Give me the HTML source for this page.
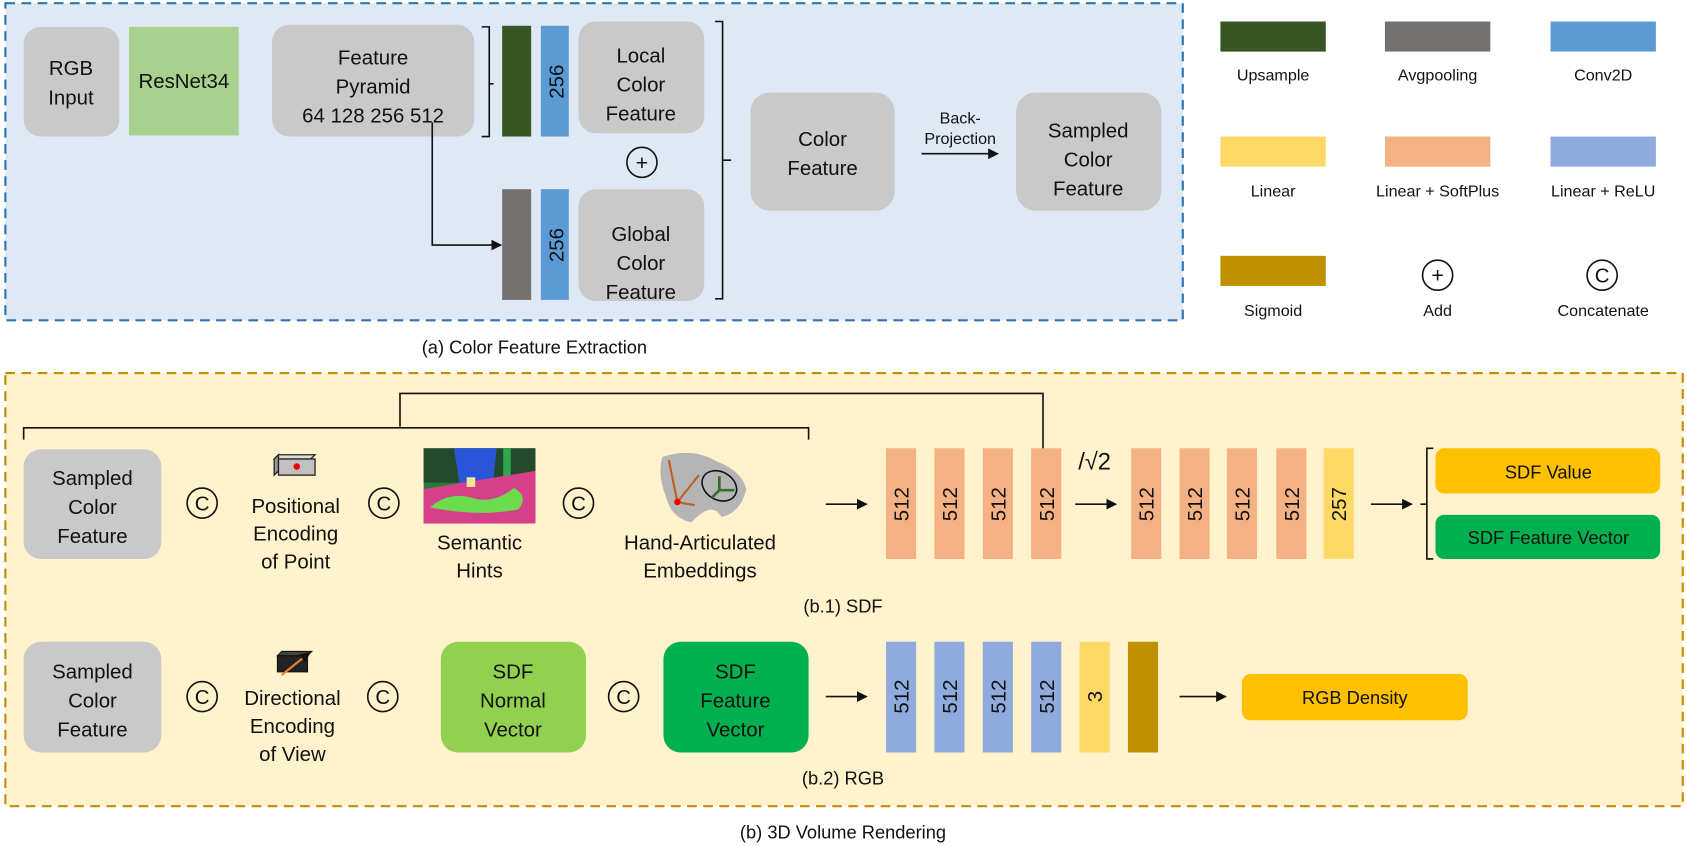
<!DOCTYPE html>
<html><head><meta charset="utf-8"><style>
html,body{margin:0;padding:0;background:#fff;}
svg{display:block;}
text{font-family:"Liberation Sans",sans-serif;fill:#111;}
</style></head><body>
<svg width="1686" height="846" viewBox="0 0 1568 787" preserveAspectRatio="none" xmlns="http://www.w3.org/2000/svg">
<defs>
<marker id="ah" markerWidth="10" markerHeight="10" refX="9" refY="5" orient="auto" markerUnits="userSpaceOnUse"><path d="M0,0 L10,5 L0,10 z" fill="#111"/></marker>
</defs>
<rect width="1568" height="787" fill="#fff"/>
<!-- Top box -->
<rect x="5" y="3" width="1095" height="295" fill="#dee9f5" stroke="#2e75b6" stroke-width="2" stroke-dasharray="9,6"/>
<g font-size="19" text-anchor="middle">
<rect x="22" y="25" width="89" height="102" rx="16" fill="#c9c9c9"/>
<text x="66" y="70">RGB</text><text x="66" y="97">Input</text>
<rect x="120" y="25" width="102" height="101" fill="#a9d18e"/>
<text x="171" y="82">ResNet34</text>
<rect x="253" y="23" width="188" height="104" rx="16" fill="#c9c9c9"/>
<text x="347" y="60">Feature</text><text x="347" y="87">Pyramid</text><text x="347" y="114">64 128 256 512</text>
</g>
<path d="M448,25 H455 V127 H448 M455,78 H459" fill="none" stroke="#111" stroke-width="1.5"/>
<rect x="467" y="24" width="27" height="103" fill="#375623"/>
<rect x="503" y="24" width="26" height="103" fill="#5b9bd5"/>
<text transform="translate(524,76) rotate(-90)" font-size="19" text-anchor="middle">256</text>
<rect x="538" y="20" width="117" height="104" rx="16" fill="#c9c9c9"/>
<g font-size="19" text-anchor="middle"><text x="596" y="58">Local</text><text x="596" y="85">Color</text><text x="596" y="112">Feature</text></g>
<circle cx="597" cy="151" r="14" fill="none" stroke="#111" stroke-width="1.5"/>
<text x="597" y="158" font-size="20" text-anchor="middle">+</text>
<rect x="467" y="176" width="27" height="103" fill="#767171"/>
<rect x="503" y="176" width="26" height="103" fill="#5b9bd5"/>
<text transform="translate(524,228) rotate(-90)" font-size="19" text-anchor="middle">256</text>
<rect x="538" y="176" width="117" height="104" rx="16" fill="#c9c9c9"/>
<g font-size="19" text-anchor="middle"><text x="596" y="224">Global</text><text x="596" y="251">Color</text><text x="596" y="278">Feature</text></g>
<path d="M402,114 V228 H466" fill="none" stroke="#111" stroke-width="1.5" marker-end="url(#ah)"/>
<path d="M665,20 H672 V278 H665 M672,149 H680" fill="none" stroke="#111" stroke-width="1.5"/>
<rect x="698" y="86" width="134" height="110" rx="18" fill="#c9c9c9"/>
<g font-size="19" text-anchor="middle"><text x="765" y="136">Color</text><text x="765" y="163">Feature</text></g>
<g font-size="15" text-anchor="middle"><text x="893" y="115">Back-</text><text x="893" y="134">Projection</text></g>
<line x1="857" y1="143" x2="928" y2="143" stroke="#111" stroke-width="1.5" marker-end="url(#ah)"/>
<rect x="945" y="86" width="135" height="110" rx="18" fill="#c9c9c9"/>
<g font-size="19" text-anchor="middle"><text x="1012" y="128">Sampled</text><text x="1012" y="155">Color</text><text x="1012" y="182">Feature</text></g>
<text x="497" y="329" font-size="17" text-anchor="middle">(a) Color Feature Extraction</text>
<!-- Legend -->
<g font-size="15" text-anchor="middle">
<rect x="1135" y="20" width="98" height="28" fill="#375623"/><text x="1184" y="75">Upsample</text>
<rect x="1288" y="20" width="98" height="28" fill="#767171"/><text x="1337" y="75">Avgpooling</text>
<rect x="1442" y="20" width="98" height="28" fill="#5b9bd5"/><text x="1491" y="75">Conv2D</text>
<rect x="1135" y="127" width="98" height="28" fill="#ffd966"/><text x="1184" y="183">Linear</text>
<rect x="1288" y="127" width="98" height="28" fill="#f4b183"/><text x="1337" y="183">Linear + SoftPlus</text>
<rect x="1442" y="127" width="98" height="28" fill="#8faadc"/><text x="1491" y="183">Linear + ReLU</text>
<rect x="1135" y="238" width="98" height="28" fill="#bf9000"/><text x="1184" y="294">Sigmoid</text>
<text x="1337" y="294">Add</text><text x="1491" y="294">Concatenate</text>
</g>
<circle cx="1337" cy="256" r="14" fill="none" stroke="#111" stroke-width="1.5"/><text x="1337" y="263" font-size="20" text-anchor="middle">+</text>
<circle cx="1490" cy="256" r="14" fill="none" stroke="#111" stroke-width="1.5"/><text x="1490" y="263" font-size="19" text-anchor="middle">C</text>
<!-- Bottom box -->
<rect x="5" y="347" width="1560" height="403" fill="#fff2cc" stroke="#bf9000" stroke-width="2" stroke-dasharray="9,6"/>
<text x="784" y="780" font-size="17" text-anchor="middle">(b) 3D Volume Rendering</text>
<path d="M22,409 V398 H752 V409" fill="none" stroke="#111" stroke-width="1.5"/>
<path d="M372,397 V366 H970 V443" fill="none" stroke="#111" stroke-width="1.5" marker-end="url(#ah)"/>
<!-- row b1 -->
<rect x="22" y="418" width="128" height="102" rx="16" fill="#c9c9c9"/>
<g font-size="19" text-anchor="middle"><text x="86" y="451">Sampled</text><text x="86" y="478">Color</text><text x="86" y="505">Feature</text></g>
<g font-size="19" text-anchor="middle">
<circle cx="188" cy="468" r="14" fill="none" stroke="#111" stroke-width="1.5"/><text x="188" y="475">C</text>
<circle cx="357" cy="468" r="14" fill="none" stroke="#111" stroke-width="1.5"/><text x="357" y="475">C</text>
<circle cx="538" cy="468" r="14" fill="none" stroke="#111" stroke-width="1.5"/><text x="538" y="475">C</text>
<text x="275" y="477">Positional</text><text x="275" y="503">Encoding</text><text x="275" y="529">of Point</text>
<text x="446" y="511">Semantic</text><text x="446" y="537">Hints</text>
<text x="651" y="511">Hand-Articulated</text><text x="651" y="537">Embeddings</text>
</g>
<!-- positional icon -->
<path d="M255,427 l4,-4 h34 l-4,4 z" fill="#ddd" stroke="#222" stroke-width="1.2"/>
<path d="M255,427 v15 l4,-4 v-15 z" fill="#999" stroke="#222" stroke-width="1.2"/>
<rect x="259" y="427" width="34" height="15" fill="#c0c0c0" stroke="#222" stroke-width="1.2"/>
<circle cx="276" cy="434" r="3" fill="#e00"/>
<!-- semantic image -->
<g>
<rect x="394" y="417" width="104" height="70" fill="#2c7a3a"/>
<rect x="394" y="417" width="104" height="32" fill="#244a2c"/>
<path d="M422,417 h40 l-4,36 h-30 z" fill="#2a55d8"/>
<path d="M468,417 h7 v32 h-7z" fill="#2ea84a"/>
<path d="M394,455 L498,438 V487 H394 z" fill="#d6408a"/>
<path d="M400,472 q18,-16 42,-8 q18,4 36,-10 q14,8 4,20 q-38,7 -82,-2z" fill="#6bdc4c"/>
<rect x="434" y="444" width="8" height="9" fill="#f4e59a"/>
</g>
<!-- hand -->
<path d="M616,425 q28,-9 50,4 q24,9 28,26 q-5,22 -23,26 q-9,-16 -28,5 q-18,-4 -23,-22 q-9,-22 -4,-39z" fill="#b5b5b5"/>
<ellipse cx="669" cy="452" rx="17" ry="13" transform="rotate(30,669,452)" fill="none" stroke="#111" stroke-width="1.5"/>
<path d="M630,467 L622,428 M630,467 L650,442 M630,467 L646,470" stroke="#c06020" stroke-width="2"/>
<path d="M669,456 v-13 M669,456 h14 M669,456 l-7,7" stroke="#3a6a2a" stroke-width="2.5"/>
<circle cx="630" cy="467" r="3" fill="#e00"/>
<!-- sdf net -->
<line x1="768" y1="469" x2="806" y2="469" stroke="#111" stroke-width="1.5" marker-end="url(#ah)"/>
<g font-size="19" text-anchor="middle">
<rect x="824" y="417" width="28" height="103" fill="#f4b183"/><text transform="translate(845,469) rotate(-90)">512</text>
<rect x="869" y="417" width="28" height="103" fill="#f4b183"/><text transform="translate(890,469) rotate(-90)">512</text>
<rect x="914" y="417" width="28" height="103" fill="#f4b183"/><text transform="translate(935,469) rotate(-90)">512</text>
<rect x="959" y="417" width="28" height="103" fill="#f4b183"/><text transform="translate(980,469) rotate(-90)">512</text>
<rect x="1052" y="417" width="28" height="103" fill="#f4b183"/><text transform="translate(1073,469) rotate(-90)">512</text>
<rect x="1097" y="417" width="28" height="103" fill="#f4b183"/><text transform="translate(1118,469) rotate(-90)">512</text>
<rect x="1141" y="417" width="28" height="103" fill="#f4b183"/><text transform="translate(1162,469) rotate(-90)">512</text>
<rect x="1187" y="417" width="28" height="103" fill="#f4b183"/><text transform="translate(1208,469) rotate(-90)">512</text>
<rect x="1231" y="417" width="28" height="103" fill="#ffd966"/><text transform="translate(1252,469) rotate(-90)">257</text>
</g>
<text x="1018" y="437" font-size="22" text-anchor="middle" font-family="Liberation Serif,serif">/√2</text>
<line x1="1000" y1="469" x2="1038" y2="469" stroke="#111" stroke-width="1.5" marker-end="url(#ah)"/>
<line x1="1275" y1="469" x2="1313" y2="469" stroke="#111" stroke-width="1.5" marker-end="url(#ah)"/>
<path d="M1333,417 H1327 V520 H1333 M1327,469 H1321" fill="none" stroke="#111" stroke-width="1.5"/>
<rect x="1335" y="417" width="209" height="42" rx="8" fill="#ffc000"/>
<text x="1440" y="445" font-size="17" text-anchor="middle">SDF Value</text>
<rect x="1335" y="479" width="209" height="41" rx="8" fill="#00b050"/>
<text x="1440" y="506" font-size="17" text-anchor="middle">SDF Feature Vector</text>
<text x="784" y="570" font-size="17" text-anchor="middle">(b.1) SDF</text>
<!-- row b2 -->
<rect x="22" y="597" width="128" height="103" rx="16" fill="#c9c9c9"/>
<g font-size="19" text-anchor="middle"><text x="86" y="631">Sampled</text><text x="86" y="658">Color</text><text x="86" y="685">Feature</text></g>
<g font-size="19" text-anchor="middle">
<circle cx="188" cy="648" r="14" fill="none" stroke="#111" stroke-width="1.5"/><text x="188" y="655">C</text>
<circle cx="356" cy="648" r="14" fill="none" stroke="#111" stroke-width="1.5"/><text x="356" y="655">C</text>
<circle cx="580" cy="648" r="14" fill="none" stroke="#111" stroke-width="1.5"/><text x="580" y="655">C</text>
<text x="272" y="656">Directional</text><text x="272" y="682">Encoding</text><text x="272" y="708">of View</text>
</g>
<path d="M258,610 l4,-4 h28 l-4,4z" fill="#444" stroke="#111"/>
<rect x="258" y="610" width="28" height="15" fill="#222" stroke="#111"/>
<path d="M262,628 L288,607" stroke="#f08030" stroke-width="2" marker-end="url(#ah)"/>
<rect x="410" y="597" width="135" height="103" rx="16" fill="#92d050"/>
<g font-size="19" text-anchor="middle"><text x="477" y="631">SDF</text><text x="477" y="658">Normal</text><text x="477" y="685">Vector</text></g>
<rect x="617" y="597" width="135" height="103" rx="16" fill="#00b050"/>
<g font-size="19" text-anchor="middle"><text x="684" y="631">SDF</text><text x="684" y="658">Feature</text><text x="684" y="685">Vector</text></g>
<line x1="768" y1="648" x2="806" y2="648" stroke="#111" stroke-width="1.5" marker-end="url(#ah)"/>
<g font-size="19" text-anchor="middle">
<rect x="824" y="597" width="28" height="103" fill="#8faadc"/><text transform="translate(845,648) rotate(-90)">512</text>
<rect x="869" y="597" width="28" height="103" fill="#8faadc"/><text transform="translate(890,648) rotate(-90)">512</text>
<rect x="914" y="597" width="28" height="103" fill="#8faadc"/><text transform="translate(935,648) rotate(-90)">512</text>
<rect x="959" y="597" width="28" height="103" fill="#8faadc"/><text transform="translate(980,648) rotate(-90)">512</text>
<rect x="1004" y="597" width="28" height="103" fill="#ffd966"/><text transform="translate(1025,648) rotate(-90)">3</text>
<rect x="1049" y="597" width="28" height="103" fill="#bf9000"/>
</g>
<line x1="1097" y1="648" x2="1140" y2="648" stroke="#111" stroke-width="1.5" marker-end="url(#ah)"/>
<rect x="1155" y="627" width="210" height="43" rx="8" fill="#ffc000"/>
<text x="1260" y="655" font-size="17" text-anchor="middle">RGB Density</text>
<text x="784" y="730" font-size="17" text-anchor="middle">(b.2) RGB</text>
</svg>
</body></html>
